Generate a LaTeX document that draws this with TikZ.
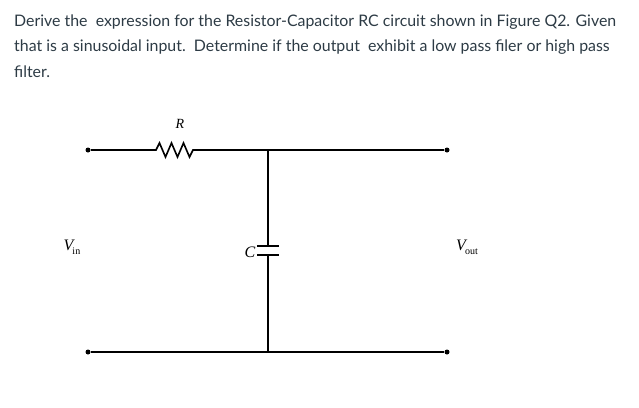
\documentclass[tikz,border=0pt]{standalone}
\usepackage{fontspec}
\setmainfont{Lato}
\newfontfamily\serifc{Liberation Serif}
\definecolor{txt}{HTML}{2D3B45}
\begin{document}
\begin{tikzpicture}[x=1pt,y=-1pt,
  line/.style={anchor=west,inner sep=0,text=txt,font=\fontsize{15.9}{18}\selectfont},
  wire/.style={line width=1.6pt},
  dot/.style={circle,fill,inner sep=0,minimum size=5pt},
  lab/.style={inner sep=0,font=\serifc\itshape\fontsize{16}{17}\selectfont}]
\useasboundingbox (0,0) rectangle (639,407);
\node[line] (t1) at (14,22) {Derive the\ \ expression for the Resistor-Capacitor RC circuit shown in Figure Q2. Given};
\node[line] (t2) at (14,47) {that is a sinusoidal input.\ \ Determine if the output\ \ exhibit a low pass filer or high pass};
\node[line] (t3) at (14,72) {filter.};
\node[dot] (a) at (88,150) {};
\node[dot] (b) at (447,150) {};
\node[dot] (c) at (88,352) {};
\node[dot] (d) at (447,352) {};
\coordinate (r1) at (152,150);
\coordinate (r2) at (204,150);
\coordinate (j) at (268,150);
\coordinate (k) at (268,352);
\coordinate (p1) at (268,246);
\coordinate (p2) at (268,255);
\draw[wire] (a) -- (r1);
\draw[wire,line join=miter] (r1) -- ++(4,0) -- ++(3.5,-7) -- ++(6,14) -- ++(6,-14) -- ++(6,14) -- ++(6,-14) -- ++(6,14) -- ++(3.5,-7) -- (r2);
\draw[wire] (r2) -- (b);
\draw[wire] (j) -- (p1);
\draw[wire] (p2) -- (k);
\draw[wire] (257,246) -- (279,246);
\draw[wire] (257,255) -- (279,255);
\draw[wire] (c) -- (d);
\node[lab,font=\serifc\itshape\fontsize{14}{15}\selectfont] (R) at (180,124) {R};
\node[lab] (C) at (250,252) {C};
\node[lab] (vi) at (72,247) {V\kern-1pt\raisebox{-4pt}{\upshape\fontsize{10}{11}\selectfont in}};
\node[lab] (vo) at (467,247) {V\kern-1pt\raisebox{-4pt}{\upshape\fontsize{10}{11}\selectfont out}};
\end{tikzpicture}
\end{document}
